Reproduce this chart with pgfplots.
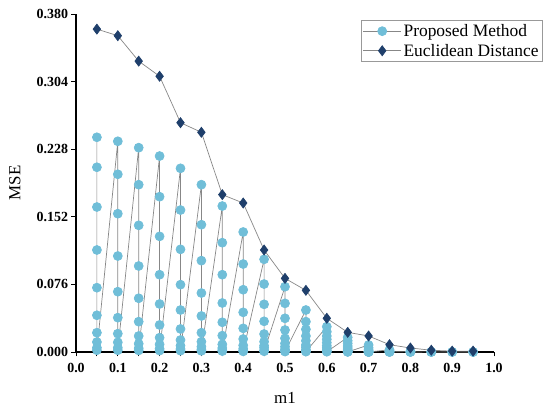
\documentclass[border=0pt]{standalone}
\usepackage{pgfplots}
\pgfplotsset{compat=1.18}
\usepackage{fontspec}
\setmainfont{Liberation Serif}

\definecolor{propblue}{RGB}{112,190,216}
\definecolor{navy}{RGB}{31,63,107}
\definecolor{linegray}{RGB}{135,135,135}

\begin{document}
\begin{tikzpicture}
\begin{axis}[
    scale only axis,
    width=418bp, height=338bp,
    xmin=0, xmax=1, ymin=0, ymax=0.380,
    axis x line*=bottom, axis y line*=left,
    axis line style={black, line width=1.1bp},
    xtick={0,0.1,...,1.0},
    minor xtick={0.05,0.15,...,0.95},
    ytick={0,0.076,0.152,0.228,0.304,0.380},
    tick align=outside,
    major tick length=4.5bp, minor tick length=4.5bp,
    tick style={black, line width=0.9bp},
    xticklabel style={yshift=-3bp, /pgf/number format/.cd, fixed, fixed zerofill, precision=1},
    yticklabel style={/pgf/number format/.cd, fixed, fixed zerofill, precision=3},
    /pgf/number format/assume math mode=true,
    ticklabel style={font=\fontsize{14}{16}\selectfont\bfseries},
    scaled y ticks=false,
    xlabel={m1}, ylabel={MSE},
    label style={font=\fontsize{17}{19}\selectfont},
    xlabel style={at={(axis description cs:0.5,0)}, anchor=base, yshift=-51bp},
    ylabel style={at={(axis description cs:-0.146,0.5)}, anchor=center},
    legend style={at={(axis description cs:1.117,0.982)}, anchor=north east,
        draw=gray!80, line width=0.6bp, font=\fontsize{17.5}{20}\selectfont,
        inner sep=2bp, row sep=2bp,
        /tikz/every even column/.append style={column sep=4bp}},
    legend cell align=left,
    legend image code/.code={%
        \draw[mark repeat=2, mark phase=2] plot coordinates {(0bp,0bp) (19bp,0bp) (38bp,0bp)};},
    clip=false,
]
\coordinate (O) at (rel axis cs:0,0);

% Proposed Method: each column read from top to bottom, then next column
\addplot[linegray, line width=0.7bp, mark=*, mark size=4.5bp,
    mark options={draw=propblue, fill=propblue}] coordinates {
(0.05,0.2414) (0.05,0.2077) (0.05,0.1630) (0.05,0.1147) (0.05,0.0723) (0.05,0.0413) (0.05,0.0217) (0.05,0.0112) (0.05,0.0048) (0.05,0.0020)
(0.10,0.2369) (0.10,0.1998) (0.10,0.1555) (0.10,0.1079) (0.10,0.0678) (0.10,0.0386) (0.10,0.0206) (0.10,0.0109) (0.10,0.0048) (0.10,0.0020)
(0.15,0.2297) (0.15,0.1881) (0.15,0.1424) (0.15,0.0967) (0.15,0.0604) (0.15,0.0341) (0.15,0.0180) (0.15,0.0093) (0.15,0.0042) (0.15,0.0018)
(0.20,0.2203) (0.20,0.1746) (0.20,0.1300) (0.20,0.0869) (0.20,0.0540) (0.20,0.0304) (0.20,0.0161) (0.20,0.0086) (0.20,0.0037) (0.20,0.0016)
(0.25,0.2065) (0.25,0.1596) (0.25,0.1154) (0.25,0.0757) (0.25,0.0472) (0.25,0.0259) (0.25,0.0135) (0.25,0.0071) (0.25,0.0034) (0.25,0.0015)
(0.30,0.1881) (0.30,0.1431) (0.30,0.1027) (0.30,0.0663) (0.30,0.0405) (0.30,0.0217) (0.30,0.0116) (0.30,0.0060) (0.30,0.0030) (0.30,0.0013)
(0.35,0.1641) (0.35,0.1229) (0.35,0.0869) (0.35,0.0551) (0.35,0.0334) (0.35,0.0184) (0.35,0.0086) (0.35,0.0045) (0.35,0.0022) (0.35,0.0010)
(0.40,0.1349) (0.40,0.0989) (0.40,0.0700) (0.40,0.0446) (0.40,0.0266) (0.40,0.0146) (0.40,0.0075) (0.40,0.0037) (0.40,0.0015) (0.40,0.0007)
(0.45,0.1042) (0.45,0.0764) (0.45,0.0536) (0.45,0.0345) (0.45,0.0202) (0.45,0.0116) (0.45,0.0071) (0.45,0.0048) (0.45,0.0020) (0.45,0.0008)
(0.50,0.0734) (0.50,0.0547) (0.50,0.0379) (0.50,0.0247) (0.50,0.0154) (0.50,0.0097) (0.50,0.0060) (0.50,0.0030) (0.50,0.0012) (0.50,0.0005)
(0.55,0.0472) (0.55,0.0341) (0.55,0.0255) (0.55,0.0180) (0.55,0.0127) (0.55,0.0079) (0.55,0.0053) (0.55,0.0025) (0.55,0.0010) (0.55,0.0004)
(0.60,0.0285) (0.60,0.0228) (0.60,0.0180) (0.60,0.0142) (0.60,0.0105) (0.60,0.0071) (0.60,0.0048) (0.60,0.0022) (0.60,0.0009) (0.60,0.0003)
(0.65,0.0165) (0.65,0.0127) (0.65,0.0097) (0.65,0.0067) (0.65,0.0045) (0.65,0.0025) (0.65,0.0012) (0.65,0.0006) (0.65,0.0003) (0.65,0.0001)
(0.70,0.0079) (0.70,0.0048) (0.70,0.0025) (0.70,0.0012) (0.70,0.0006) (0.70,0.0003) (0.70,0.0001) (0.70,0.0001) (0.70,0.0000) (0.70,0.0000)
(0.75,0.0025) (0.75,0.0012) (0.75,0.0006) (0.75,0.0003) (0.75,0.0001) (0.75,0.0000)
(0.80,0.0006) (0.80,0.0003) (0.80,0.0001) (0.80,0.0000)
(0.85,0.0002) (0.85,0.0001) (0.85,0.0000)
(0.90,0.0001) (0.90,0.0000)
(0.95,0.0000) (0.95,0.0000)
};
\addlegendentry{Proposed Method}

\addplot[linegray, line width=0.7bp, mark=diamond*, mark size=5bp,
    mark options={draw=navy, fill=navy}] coordinates {
(0.05,0.3630) (0.10,0.3556) (0.15,0.3270) (0.20,0.3100) (0.25,0.2578)
(0.30,0.2470) (0.35,0.1769) (0.40,0.1675) (0.45,0.1147) (0.50,0.0828)
(0.55,0.0693) (0.60,0.0379) (0.65,0.0221) (0.70,0.0180) (0.75,0.0082)
(0.80,0.0045) (0.85,0.0020) (0.90,0.0010) (0.95,0.0010)
};
\addlegendentry{Euclidean Distance}
\end{axis}
\pgfresetboundingbox
\path (O) ++(-76bp,-54bp) rectangle ++(550bp,406bp);
\end{tikzpicture}
\end{document}
